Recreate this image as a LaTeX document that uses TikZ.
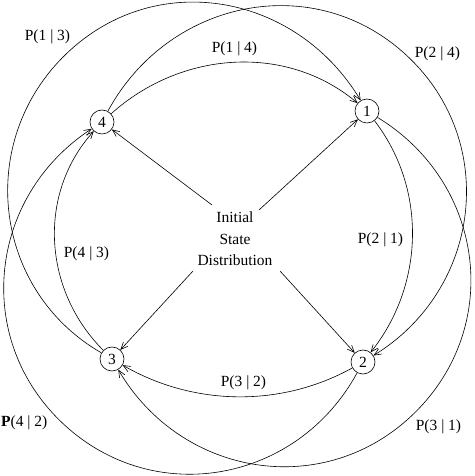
\documentclass[tikz,border=0pt]{standalone}
\usepackage{fontspec}
\setmainfont{Liberation Serif}
\usetikzlibrary{arrows.meta}
\begin{document}
\begin{tikzpicture}[x=1pt,y=1pt,
  every node/.style={font=\fontsize{15.5}{21.5}\selectfont},
  state/.style={draw,circle,minimum size=24pt,inner sep=0pt,line width=0.6pt},
  arr/.style={line width=0.6pt,-{Straight Barb[length=7pt,width=6pt]}},
  lbl/.style={inner sep=0pt}]
\useasboundingbox (0,0) rectangle (474,476);
% states
\node[state] (1) at (367,365) {1};
\node[state] (2) at (363,114) {2};
\node[state] (3) at (112,117) {3};
\node[state] (4) at (102,354) {4};
% initial distribution
\node[align=center,inner sep=0pt] (init) at (235,237) {Initial\\State\\Distribution};
\coordinate (s4) at (212,271);
\coordinate (s1) at (259,266);
\coordinate (s3) at (193,205);
\coordinate (s2) at (280,205);
\draw[arr] (s4) -- (4);
\draw[arr] (s1) -- (1);
\draw[arr] (s3) -- (3);
\draw[arr] (s2) -- (2);
% waypoints of the large arcs
\coordinate (w13) at (65.9,421.8);
\coordinate (w24) at (407.9,419.4);
\coordinate (w31) at (414.7,63.2);
\coordinate (w42) at (64.3,51.2);
% large arcs
\draw[arr] (3) to[out=150,in=224,looseness=1.07] (w13) to[out=44,in=121,looseness=1.07] (1);
\draw[arr] (4) to[out=61.6,in=136.6,looseness=1.07] (w24) to[out=-43.4,in=31.7,looseness=1.07] (2);
\draw[arr] (1) to[out=-31.4,in=44.55,looseness=1.07] (w31) to[out=-135.45,in=300.5,looseness=1.07] (3);
\draw[arr] (2) to[out=-118.6,in=-42.65,looseness=1.07] (w42) to[out=137.35,in=213.3,looseness=1.07] (4);
% small arcs
\draw[arr] (4) to[out=42,in=140,looseness=0.97] (1);
\draw[arr] (1) to[out=-52.5,in=51.6,looseness=0.95] (2);
\draw[arr] (2) to[out=-151,in=-30,looseness=0.91] (3);
\draw[arr] (3) to[out=135,in=-132,looseness=0.99] (4);
% labels
\node[lbl] (l13) at (47.5,439.5) {P(1 | 3)};
\node[lbl] (l14) at (234.5,427) {P(1 | 4)};
\node[lbl] (l24) at (437.5,422) {P(2 | 4)};
\node[lbl] (l21) at (380.5,236) {P(2 | 1)};
\node[lbl] (l43) at (86.5,222.5) {P(4 | 3)};
\node[lbl] (l32) at (243.5,93.5) {P(3 | 2)};
\node[lbl] (l31) at (438.5,49.5) {P(3 | 1)};
\node[lbl,anchor=west] (l42) at (1,53.5) {\textbf{P}(4 | 2)};
\end{tikzpicture}
\end{document}
